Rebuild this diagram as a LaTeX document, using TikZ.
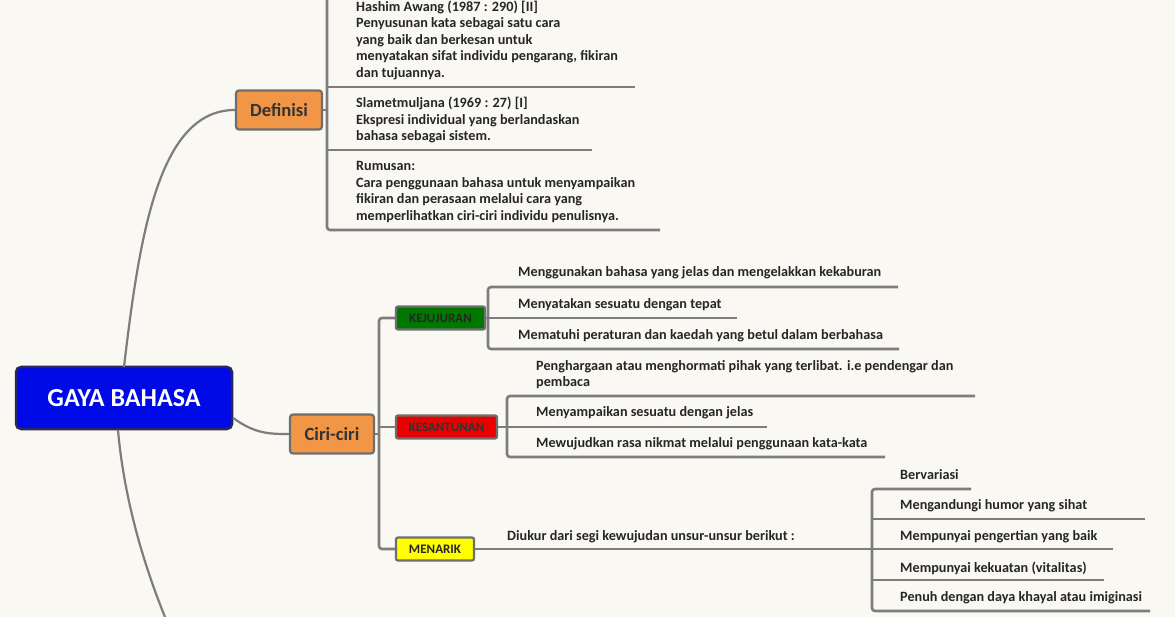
\documentclass[tikz,border=0pt]{standalone}
\usepackage{fontspec}
\setmainfont{Carlito}
\begin{document}
\begin{tikzpicture}[x=1pt,y=-1pt,
  ln/.style={draw=linegray,line width=2.6pt},
  cv/.style={draw=linegray,line width=2.2pt},
  txt/.style={anchor=west,inner sep=0pt,font=\bfseries\fontsize{14.2}{16.5}\selectfont,text=black!85,align=left},
  topic/.style={draw=boxgray,line width=2.2pt,rounded corners=3pt,inner sep=0pt,font=\fontsize{18.6}{20}\selectfont\bfseries},
  sub/.style={draw=boxgray,line width=2.2pt,rounded corners=2pt,inner sep=0pt,font=\fontsize{13}{14}\selectfont\bfseries}]
\definecolor{linegray}{RGB}{125,125,125}
\definecolor{boxgray}{RGB}{110,110,110}
\definecolor{bg}{RGB}{250,248,243}
\definecolor{orng}{RGB}{241,150,70}
\fill[bg] (0,0) rectangle (1175,617);
\useasboundingbox (0,0) rectangle (1175,617);
% central
\node[draw={rgb,255:red,40;green,40;blue,90},line width=2.5pt,rounded corners=5pt,fill={rgb,255:red,0;green,10;blue,230},minimum width=216pt,minimum height=62pt,text=white,font=\fontsize{26}{28}\selectfont\bfseries] (g) at (124,398) {GAYA BAHASA};
\node[topic,fill=orng,minimum width=86pt,minimum height=39pt,text=black!80] (def) at (279,110) {Definisi};
\node[topic,fill=orng,minimum width=84pt,minimum height=39pt,text=black!80] (cir) at (332,434) {Ciri-ciri};
% main curves
\coordinate (gt) at (124,367);
\coordinate (gb) at (118,430);
\coordinate (bot) at (165,617);
\draw[cv] (gt) .. controls (140,230) and (160,110) .. (def.west);
\draw[cv] (gb) .. controls (125,510) and (150,580) .. (bot);
\draw[cv] (g.east|-0,418) .. controls (255,434) and (270,434) .. (cir.west);
% definisi bracket
\coordinate (dtop) at (327,0);
\coordinate (d1) at (635,87);
\coordinate (d2) at (592,150);
\coordinate (d3) at (660,230);
\draw[ln] (def.east) -- (327,110);
\draw[ln,rounded corners=3pt] (dtop) -- (327,230) -- (d3);
\draw[ln] (327,87) -- (d1);
\draw[ln] (327,150) -- (d2);
\node[txt] (t1) at (356,40) {Hashim Awang (1987 : 290) [II]\\Penyusunan kata sebagai satu cara\\yang baik dan berkesan untuk\\menyatakan sifat individu pengarang, fikiran\\dan tujuannya.};
\node[txt] (t2) at (356,120) {Slametmuljana (1969 : 27) [I]\\Ekspresi individual yang berlandaskan\\bahasa sebagai sistem.};
\node[txt] (t3) at (356,192) {Rumusan:\\Cara penggunaan bahasa untuk menyampaikan\\fikiran dan perasaan melalui cara yang\\memperlihatkan ciri-ciri individu penulisnya.};
% ciri bracket
\node[sub,fill={rgb,255:red,0;green,120;blue,0},minimum width=89pt,minimum height=23pt,text=black!85] (kej) at (440.5,318) {KEJUJURAN};
\node[sub,fill={rgb,255:red,235;green,0;blue,0},minimum width=101pt,minimum height=23pt,text=black!80] (kes) at (446.5,427) {KESANTUNAN};
\node[sub,fill={rgb,255:red,255;green,255;blue,0},minimum width=78pt,minimum height=23pt,text=black!85] (men) at (435,549) {MENARIK};
\draw[ln] (cir.east) -- (379,434);
\draw[ln,rounded corners=3pt] (kej.west) -- (379,318) -- (379,549) -- (men.west);
\draw[ln] (379,427) -- (kes.west);
% kejujuran
\coordinate (k1) at (898,287); \coordinate (k2) at (737,318); \coordinate (k3) at (899,349);
\draw[ln] (kej.east) -- (488,318) -- (k2);
\draw[ln,rounded corners=3pt] (k1) -- (488,287) -- (488,349) -- (k3);
\node[txt] at (518,273) {Menggunakan bahasa yang jelas dan mengelakkan kekaburan};
\node[txt] at (518,305) {Menyatakan sesuatu dengan tepat};
\node[txt] at (518,336) {Mematuhi peraturan dan kaedah yang betul dalam berbahasa};
% kesantunan
\coordinate (s1) at (975,396); \coordinate (s2) at (767,427); \coordinate (s3) at (885,457);
\draw[ln] (kes.east) -- (507,427) -- (s2);
\draw[ln,rounded corners=3pt] (s1) -- (507,396) -- (507,457) -- (s3);
\node[txt] at (536,374.5) {Penghargaan atau menghormati pihak yang terlibat. i.e pendengar dan\\pembaca};
\node[txt] at (536,413) {Menyampaikan sesuatu dengan jelas};
\node[txt] at (536,444) {Mewujudkan rasa nikmat melalui penggunaan kata-kata};
% menarik
\draw[ln] (men.east) -- (872,549);
\node[txt] at (507,537) {Diukur dari segi kewujudan unsur-unsur berikut :};
\coordinate (m1) at (971,489); \coordinate (m2) at (1145,519); \coordinate (m3) at (1113,549);
\coordinate (m4) at (1104,580); \coordinate (m5) at (1150,611);
\draw[ln,rounded corners=3pt] (m1) -- (872,489) -- (872,611) -- (m5);
\draw[ln] (872,519) -- (m2);
\draw[ln] (872,549) -- (m3);
\draw[ln] (872,580) -- (m4);
\node[txt] at (900,475) {Bervariasi};
\node[txt] at (900,506) {Mengandungi humor yang sihat};
\node[txt] at (900,537) {Mempunyai pengertian yang baik};
\node[txt] at (900,568) {Mempunyai kekuatan (vitalitas)};
\node[txt] at (900,598) {Penuh dengan daya khayal atau imiginasi};
\end{tikzpicture}
\end{document}
